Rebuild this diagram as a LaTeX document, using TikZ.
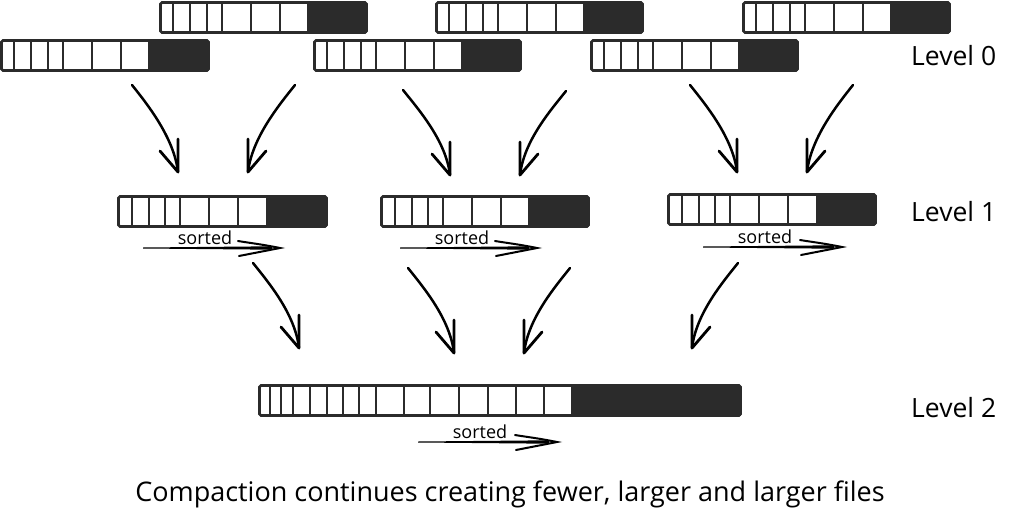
\documentclass[tikz,border=0pt]{standalone}
\usepackage{fontspec}
\setmainfont{Open Sans}
\usetikzlibrary{calc}
\definecolor{ink}{HTML}{2B2B2B}
\tikzset{
  cell/.style={draw=ink, line width=2.8pt},
  flow/.style={draw=black, line width=2.5pt, line cap=round},
  headline/.style={draw=black, line width=2.8pt, line cap=round, line join=round},
  sortbarb/.style={draw=black, line width=2pt, line cap=round},
  lvl/.style={anchor=west, inner sep=0pt, font=\fontsize{26.5}{26.5}\selectfont},
  sortlbl/.style={inner sep=0pt, font=\fontsize{18}{18}\selectfont},
  captext/.style={inner sep=0pt, font=\fontsize{27}{27}\selectfont}
}
% #1 name, #2 x, #3 y, #4 width, #5 black start, #6 dividers
\newcommand\filebar[6]{%
  \coordinate (#1) at (#2,#3);
  \fill[ink] ($(#1)+(#5,1.5)$) rectangle ($(#1)+(#4-1.5,31.5)$);
  \foreach \o in {#6} \draw[cell] ($(#1)+(\o,1.5)$) -- ++(0,30);
  \draw[cell, rounded corners=1.5pt] ($(#1)+(1.5,1.5)$) rectangle ($(#1)+(#4-1.5,31.5)$);
}
\newcommand\rarrow[2]{%
  \draw[flow] (#1) .. controls +(16,20) and +(-4,-34) .. (#2);
  \draw[headline] ($(#2)+(0,-33)$) -- (#2) -- ++(-18,-21);
}
\newcommand\larrow[2]{%
  \draw[flow] (#1) .. controls +(-16,20) and +(4,-34) .. (#2);
  \draw[headline] ($(#2)+(0,-33)$) -- (#2) -- ++(18,-21);
}
% #1 name, #2 left x, #3 tip x, #4 y
\newcommand\sortedarrow[4]{%
  \coordinate (#1s) at (#2,#4);
  \coordinate (#1t) at (#3,#4);
  \fill[black] ($(#1s)+(0,-0.5)$) -- ($(#1t)+(-8,-1.7)$) -- ($(#1t)+(-8,1.7)$) -- ($(#1s)+(0,0.5)$) -- cycle;
  \draw[sortbarb] ($(#1t)+(-42,-7)$) .. controls +(12,2) and +(-20,-4) .. (#1t) -- ++(-41,8);
  \node[sortlbl] (#1l) at ($(#1s)+(62,-10.5)$) {sorted};
}
\begin{document}
\begin{tikzpicture}[x=1pt,y=-1pt]
\useasboundingbox (0,0) rectangle (1024,514);
% Level 0
\filebar{a}{159}{1}{209}{148}{14,31,48,63,92,121}
\filebar{b}{435}{1}{209}{148}{14,31,48,63,92,121}
\filebar{c}{742}{1}{209}{148}{14,31,48,63,92,121}
\filebar{d}{0}{39}{210}{148}{14,31,48,63,92,121}
\filebar{e}{313}{39}{209}{148}{14,31,48,63,92,121}
\filebar{f}{590}{39}{209}{148}{14,31,48,63,92,121}
\node[lvl] (l0) at (911,56) {Level 0};
% Level 1
\filebar{g}{117}{195}{211}{149}{15,32,48,63,92,121}
\filebar{h}{380}{195}{210}{148}{15,32,48,63,92,121}
\filebar{i}{667}{193}{210}{149}{15,32,48,63,92,121}
\node[lvl] (l1) at (911,212) {Level 1};
% Level 2
\filebar{j}{258}{384}{484}{313}{12,23,35,52,69,85,101,118,146,172,201,230,258,286}
\node[lvl] (l2) at (911,408) {Level 2};
% sorted arrows
\sortedarrow{sg}{143}{280}{248}
\sortedarrow{sh}{400}{537}{248}
\sortedarrow{si}{703}{842}{247}
\sortedarrow{sj}{418}{557}{442}
% arrows level 0 -> 1
\coordinate (a1s) at (132,85);  \coordinate (a1t) at (178,172);
\coordinate (a2s) at (295,85);  \coordinate (a2t) at (248,172);
\coordinate (a3s) at (403,90);  \coordinate (a3t) at (450,175);
\coordinate (a4s) at (566,91);  \coordinate (a4t) at (520,175);
\coordinate (a5s) at (690,85);  \coordinate (a5t) at (737,172);
\coordinate (a6s) at (853,85);  \coordinate (a6t) at (807,172);
\rarrow{a1s}{a1t}
\larrow{a2s}{a2t}
\rarrow{a3s}{a3t}
\larrow{a4s}{a4t}
\rarrow{a5s}{a5t}
\larrow{a6s}{a6t}
% arrows level 1 -> 2
\coordinate (b1s) at (253,263); \coordinate (b1t) at (299,348);
\coordinate (b2s) at (408,268); \coordinate (b2t) at (454,353);
\coordinate (b3s) at (570,268); \coordinate (b3t) at (524,353);
\coordinate (b4s) at (738,263); \coordinate (b4t) at (692,348);
\rarrow{b1s}{b1t}
\rarrow{b2s}{b2t}
\larrow{b3s}{b3t}
\larrow{b4s}{b4t}
% caption
\node[captext] (caption) at (510,494) {Compaction continues creating fewer, larger and larger files};
\end{tikzpicture}
\end{document}
